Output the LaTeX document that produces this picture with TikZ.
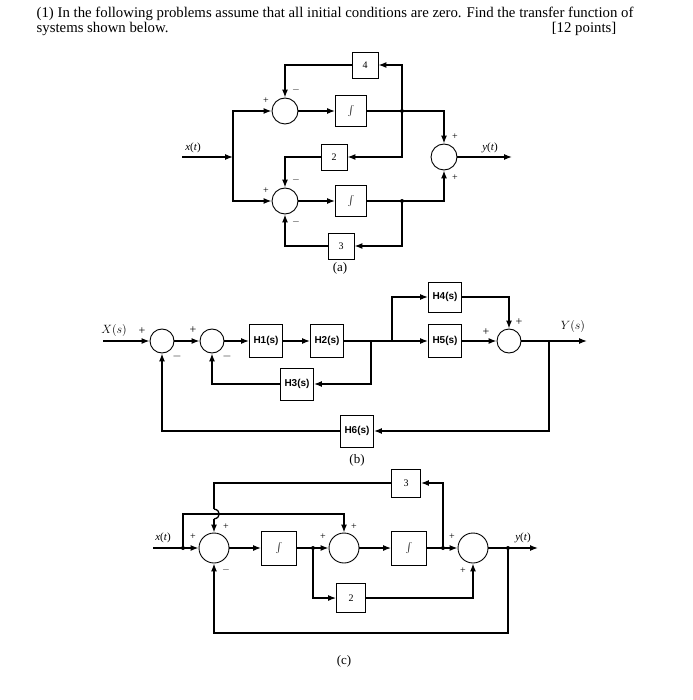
\documentclass[tikz,border=0pt]{standalone}
\usepackage{fontspec}
\setmainfont{Liberation Serif}
\newfontfamily\hfont{Liberation Sans}
\usetikzlibrary{arrows.meta}
\begin{document}
\begin{tikzpicture}[x=1pt,y=-1pt,
    line width=1.3pt,
    >={Latex[length=8pt,width=6pt]},
    sumnode/.style={circle, draw, line width=0.9pt, minimum size=26pt, inner sep=0pt},
    block/.style={rectangle, draw, line width=0.8pt, minimum width=26pt, minimum height=26pt, inner sep=0pt, font=\fontsize{10}{11}\selectfont},
    hblock/.style={rectangle, draw, line width=0.9pt, minimum width=33pt, minimum height=33pt, inner sep=0pt, font=\hfont\bfseries\fontsize{10}{11}\selectfont},
    sgn/.style={font=\fontsize{10}{11}\selectfont, inner sep=0pt},
    lbl/.style={font=\fontsize{11}{12}\selectfont, inner sep=0pt},
    dot/.style={fill, radius=2pt}
]
\useasboundingbox (0,0) rectangle (692,700);

% Header
\node[anchor=west, font=\fontsize{14.8}{16}\selectfont, inner sep=0pt] (head1) at (36,14) {(1) In the following problems assume that all initial conditions are zero. Find the transfer function of};
\node[anchor=west, font=\fontsize{14.8}{16}\selectfont, inner sep=0pt] (head2) at (36,29) {systems shown below.};
\node[anchor=east, font=\fontsize{14.8}{16}\selectfont, inner sep=0pt] (pts) at (617,29) {[12 points]};

% (a) Nodes
\node[sumnode] (asumA) at (285,111) {};
\node[sumnode] (asumB) at (285,201) {};
\node[sumnode] (asumC) at (444,157) {};
\node[block, minimum width=31pt, minimum height=31pt] (aintA) at (351,111) {$\int$};
\node[block, minimum width=31pt, minimum height=31pt] (aintB) at (351,201) {$\int$};
\node[block] (afour) at (365,65) {4};
\node[block] (atwo) at (334,157) {2};
\node[block] (athree) at (341,246) {3};
\coordinate (ain) at (182,157);
\coordinate (asplit) at (233,157);
\coordinate (aout) at (512,157);
\coordinate (ajA) at (402,111);
\coordinate (ajB) at (402,201);
\node[lbl] (alx) at (193,148) {\textit{x}(\textit{t})};
\node[lbl] (aly) at (490,148) {\textit{y}(\textit{t})};
\node[font=\fontsize{13}{14}\selectfont] (acap) at (340,268) {(a)};

% (a) Lines
\draw[->] (ain) -- (asplit);
\draw[->] (asplit) |- (asumA.west);
\draw[->] (asplit) |- (asumB.west);
\draw[->] (asumA) -- (aintA);
\draw[->] (asumB) -- (aintB);
\draw (aintA) -- (ajA);
\draw (aintB) -- (ajB);
\draw[->] (ajA) -| (asumC.north);
\draw[->] (ajB) -| (asumC.south);
\draw[->] (ajA) |- (afour.east);
\draw[->] (afour.west) -| (asumA.north);
\draw[->] (ajA) |- (atwo.east);
\draw[->] (atwo.west) -| (asumB.north);
\draw[->] (ajB) |- (athree.east);
\draw[->] (athree.west) -| (asumB.south);
\draw[->] (asumC) -- (aout);
\fill[dot] (ajA) circle; \fill[dot] (ajB) circle;
\node[sgn] at (266,101) {+};
\node[sgn] at (296,90) {$-$};
\node[sgn] at (266,191) {+};
\node[sgn] at (296,180) {$-$};
\node[sgn] at (296,222) {$-$};
\node[sgn] at (455,137) {+};
\node[sgn] at (455,178) {+};

% (b) Nodes
\node[sumnode, minimum size=24pt] (bsumA) at (162,341) {};
\node[sumnode, minimum size=24pt] (bsumB) at (212,341) {};
\node[sumnode, minimum size=24pt] (bsumC) at (509,341) {};
\node[hblock] (bone) at (266,341) {H1(s)};
\node[hblock] (btwo) at (327,341) {H2(s)};
\node[hblock, minimum height=32pt] (bthree) at (297,384) {H3(s)};
\node[hblock, minimum height=30pt] (bfour) at (445,297) {H4(s)};
\node[hblock] (bfive) at (445,341) {H5(s)};
\node[hblock, minimum height=32pt] (bsix) at (357,431) {H6(s)};
\coordinate (bin) at (103,341);
\coordinate (bjA) at (371,341);
\coordinate (bjB) at (392,341);
\coordinate (bjC) at (549,341);
\coordinate (bout) at (587,341);
\node[lbl, font=\fontsize{12}{13}\selectfont] (blx) at (114,330) {$X(s)$};
\node[lbl, font=\fontsize{12}{13}\selectfont] (bly) at (573,326) {$Y(s)$};
\node[font=\fontsize{13}{14}\selectfont] (bcap) at (357,460) {(b)};

% (b) Lines
\draw[->] (bin) -- (bsumA);
\draw[->] (bsumA) -- (bsumB);
\draw[->] (bsumB) -- (bone);
\draw[->] (bone) -- (btwo);
\draw (btwo) -- (bjB);
\draw[->] (bjB) |- (bfour.west);
\draw[->] (bjB) -- (bfive);
\draw[->] (bjA) |- (bthree.east);
\draw[->] (bthree.west) -| (bsumB.south);
\draw[->] (bfour.east) -| (bsumC.north);
\draw[->] (bfive) -- (bsumC);
\draw[->] (bsumC) -- (bout);
\draw[->] (bjC) |- (bsix.east);
\draw[->] (bsix.west) -| (bsumA.south);
\node[sgn, font=\fontsize{12}{13}\selectfont] at (142,331) {+};
\node[sgn, font=\fontsize{12}{13}\selectfont] at (193,330) {+};
\node[sgn, font=\fontsize{12}{13}\selectfont] at (177,356) {$-$};
\node[sgn, font=\fontsize{12}{13}\selectfont] at (227,356) {$-$};
\node[sgn, font=\fontsize{12}{13}\selectfont] at (486,332) {+};
\node[sgn, font=\fontsize{12}{13}\selectfont] at (519,322) {+};

% (c) Nodes
\node[sumnode, minimum size=30pt] (csumA) at (214,548) {};
\node[sumnode, minimum size=30pt] (csumB) at (344,548) {};
\node[sumnode, minimum size=30pt] (csumC) at (473,548) {};
\node[block, minimum width=35pt, minimum height=34pt] (cintA) at (279,548) {$\int$};
\node[block, minimum width=35pt, minimum height=34pt] (cintB) at (409,548) {$\int$};
\node[block, minimum width=29pt, minimum height=28pt] (cthree) at (406,483) {3};
\node[block, minimum width=29pt, minimum height=29pt] (ctwo) at (351,598) {2};
\coordinate (cin) at (153,548);
\coordinate (cjA) at (183,548);
\coordinate (cjB) at (313,548);
\coordinate (cjC) at (443,548);
\coordinate (cjD) at (508,548);
\coordinate (cout) at (538,548);
\coordinate (cturn) at (214,483);
\coordinate (chopA) at (214,509);
\coordinate (chopB) at (214,519);
\node[lbl] (clx) at (163,538) {\textit{x}(\textit{t})};
\node[lbl] (cly) at (523,538) {\textit{y}(\textit{t})};
\node[font=\fontsize{13}{14}\selectfont] (ccap) at (344,661) {(c)};

% (c) Lines
\draw (cin) -- (cjA);
\draw[->] (cjA) -- (csumA);
\draw[->] (cjA) |- (344,514) -- (csumB.north);
\draw[->] (csumA) -- (cintA);
\draw (cintA) -- (cjB);
\draw[->] (cjB) -- (csumB);
\draw[->] (csumB) -- (cintB);
\draw (cintB) -- (cjC);
\draw[->] (cjC) -- (csumC);
\draw (csumC) -- (cjD);
\draw[->] (cjD) -- (cout);
\draw[->] (cjC) |- (cthree.east);
\draw (cthree.west) -- (cturn) -- (chopA);
\draw (chopA) .. controls (221,510) and (221,518) .. (chopB);
\draw[->] (chopB) -- (csumA.north);
\draw[->] (cjB) |- (ctwo.west);
\draw[->] (ctwo.east) -| (csumC.south);
\draw[->] (cjD) |- (214,633) -- (csumA.south);
\foreach \j in {cjA,cjB,cjC,cjD} \fill[dot] (\j) circle;
\node[sgn] at (193,537) {+};
\node[sgn] at (226,527) {+};
\node[sgn] at (226,570) {$-$};
\node[sgn] at (323,537) {+};
\node[sgn] at (354,527) {+};
\node[sgn] at (452,537) {+};
\node[sgn] at (463,571) {+};
\end{tikzpicture}
\end{document}
